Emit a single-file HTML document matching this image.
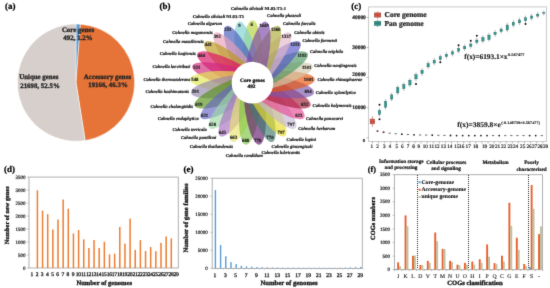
<!DOCTYPE html>
<html><head><meta charset="utf-8"><style>
html,body{margin:0;padding:0;background:#fff;width:550px;height:288px;overflow:hidden}
svg{display:block}
text{font-family:"Liberation Serif",serif;text-rendering:geometricPrecision}
#wrap{width:550px;height:288px}

</style></head><body>
<div id="wrap"><svg width="550" height="288" viewBox="0 0 550 288">
<defs><filter id="soft" x="0" y="0" width="550" height="288" filterUnits="userSpaceOnUse" color-interpolation-filters="sRGB"><feConvolveMatrix order="3" kernelMatrix="1 8 1 8 64 8 1 8 1" divisor="100" edgeMode="duplicate" preserveAlpha="true"/></filter></defs>
<g filter="url(#soft)">
<rect width="550" height="288" fill="#fff"/>
<path d="M76.00,82.60 L76.00,24.00 A58.6,58.6 0 0 1 80.41,24.17 Z" fill="#5b9bd5" stroke="#fff" stroke-width="0.5"/>
<path d="M76.00,82.60 L80.41,24.17 A58.6,58.6 0 0 1 85.17,140.48 Z" fill="#e67337" stroke="#fff" stroke-width="0.5"/>
<path d="M76.00,82.60 L85.17,140.48 A58.6,58.6 0 1 1 76.00,24.00 Z" fill="#d6cfcc" stroke="#fff" stroke-width="0.5"/>
<text x="5.00" y="9.40" font-size="9" font-weight="bold" font-style="normal" text-anchor="start" fill="#000" stroke="#000" stroke-width="0.22" >(a)</text>
<text x="78.00" y="31.80" font-size="6.9" font-weight="bold" font-style="normal" text-anchor="middle" fill="#262626" stroke="#262626" stroke-width="0.3" >Core genes</text>
<text x="78.00" y="39.60" font-size="6.9" font-weight="bold" font-style="normal" text-anchor="middle" fill="#262626" stroke="#262626" stroke-width="0.3" >492, 1.2%</text>
<text x="38.80" y="78.60" font-size="6.9" font-weight="bold" font-style="normal" text-anchor="middle" fill="#262626" stroke="#262626" stroke-width="0.3" >Unique genes</text>
<text x="40.00" y="87.70" font-size="6.9" font-weight="bold" font-style="normal" text-anchor="middle" fill="#262626" stroke="#262626" stroke-width="0.3" >21698, 52.5%</text>
<text x="107.50" y="78.50" font-size="6.9" font-weight="bold" font-style="normal" text-anchor="middle" fill="#262626" stroke="#262626" stroke-width="0.3" >Accessory genes</text>
<text x="108.00" y="86.60" font-size="6.9" font-weight="bold" font-style="normal" text-anchor="middle" fill="#262626" stroke="#262626" stroke-width="0.3" >19166, 46.3%</text>
<ellipse cx="252.50" cy="61.87" rx="10.41" ry="41.66" transform="rotate(0.00 252.50 61.87)" fill="#b6d03c" fill-opacity="0.66"/>
<ellipse cx="248.02" cy="62.36" rx="10.41" ry="41.66" transform="rotate(347.59 248.02 62.36)" fill="#7bd0d0" fill-opacity="0.66"/>
<ellipse cx="243.75" cy="63.80" rx="10.41" ry="41.66" transform="rotate(335.17 243.75 63.80)" fill="#465abb" fill-opacity="0.66"/>
<ellipse cx="239.89" cy="66.12" rx="10.41" ry="41.66" transform="rotate(322.76 239.89 66.12)" fill="#e8a0b8" fill-opacity="0.66"/>
<ellipse cx="236.62" cy="69.21" rx="10.41" ry="41.66" transform="rotate(310.34 236.62 69.21)" fill="#bb991a" fill-opacity="0.66"/>
<ellipse cx="234.10" cy="72.94" rx="10.41" ry="41.66" transform="rotate(297.93 234.10 72.94)" fill="#dc0e66" fill-opacity="0.66"/>
<ellipse cx="232.43" cy="77.13" rx="10.41" ry="41.66" transform="rotate(285.52 232.43 77.13)" fill="#d0267b" fill-opacity="0.66"/>
<ellipse cx="231.70" cy="81.57" rx="10.41" ry="41.66" transform="rotate(273.10 231.70 81.57)" fill="#e2e851" fill-opacity="0.66"/>
<ellipse cx="231.94" cy="86.07" rx="10.41" ry="41.66" transform="rotate(260.69 231.94 86.07)" fill="#9387ac" fill-opacity="0.66"/>
<ellipse cx="233.15" cy="90.41" rx="10.41" ry="41.66" transform="rotate(248.28 233.15 90.41)" fill="#57901a" fill-opacity="0.66"/>
<ellipse cx="235.26" cy="94.39" rx="10.41" ry="41.66" transform="rotate(235.86 235.26 94.39)" fill="#6666c4" fill-opacity="0.66"/>
<ellipse cx="238.18" cy="97.82" rx="10.41" ry="41.66" transform="rotate(223.45 238.18 97.82)" fill="#9ed9a6" fill-opacity="0.66"/>
<ellipse cx="241.76" cy="100.55" rx="10.41" ry="41.66" transform="rotate(211.03 241.76 100.55)" fill="#ac6fc4" fill-opacity="0.66"/>
<ellipse cx="245.85" cy="102.44" rx="10.41" ry="41.66" transform="rotate(198.62 245.85 102.44)" fill="#e8e26f" fill-opacity="0.66"/>
<ellipse cx="250.25" cy="103.41" rx="10.41" ry="41.66" transform="rotate(186.21 250.25 103.41)" fill="#7bc43f" fill-opacity="0.66"/>
<ellipse cx="254.75" cy="103.41" rx="10.41" ry="41.66" transform="rotate(173.79 254.75 103.41)" fill="#661d6f" fill-opacity="0.66"/>
<ellipse cx="259.15" cy="102.44" rx="10.41" ry="41.66" transform="rotate(161.38 259.15 102.44)" fill="#3f7b6f" fill-opacity="0.66"/>
<ellipse cx="263.24" cy="100.55" rx="10.41" ry="41.66" transform="rotate(148.97 263.24 100.55)" fill="#e8dc26" fill-opacity="0.66"/>
<ellipse cx="266.82" cy="97.82" rx="10.41" ry="41.66" transform="rotate(136.55 266.82 97.82)" fill="#c4b8d3" fill-opacity="0.66"/>
<ellipse cx="269.74" cy="94.39" rx="10.41" ry="41.66" transform="rotate(124.14 269.74 94.39)" fill="#e84b93" fill-opacity="0.66"/>
<ellipse cx="271.85" cy="90.41" rx="10.41" ry="41.66" transform="rotate(111.72 271.85 90.41)" fill="#a61d39" fill-opacity="0.66"/>
<ellipse cx="273.06" cy="86.07" rx="10.41" ry="41.66" transform="rotate(99.31 273.06 86.07)" fill="#7b57ac" fill-opacity="0.66"/>
<ellipse cx="273.30" cy="81.57" rx="10.41" ry="41.66" transform="rotate(86.90 273.30 81.57)" fill="#e8570e" fill-opacity="0.66"/>
<ellipse cx="272.57" cy="77.13" rx="10.41" ry="41.66" transform="rotate(74.48 272.57 77.13)" fill="#d0caac" fill-opacity="0.66"/>
<ellipse cx="270.90" cy="72.94" rx="10.41" ry="41.66" transform="rotate(62.07 270.90 72.94)" fill="#4e9863" fill-opacity="0.66"/>
<ellipse cx="268.38" cy="69.21" rx="10.41" ry="41.66" transform="rotate(49.66 268.38 69.21)" fill="#5857c7" fill-opacity="0.66"/>
<ellipse cx="265.11" cy="66.12" rx="10.41" ry="41.66" transform="rotate(37.24 265.11 66.12)" fill="#e2b8ca" fill-opacity="0.66"/>
<ellipse cx="261.25" cy="63.80" rx="10.41" ry="41.66" transform="rotate(24.83 261.25 63.80)" fill="#acac39" fill-opacity="0.66"/>
<ellipse cx="256.98" cy="62.36" rx="10.41" ry="41.66" transform="rotate(12.41 256.98 62.36)" fill="#7b48a9" fill-opacity="0.66"/>
<circle cx="252.5" cy="82.7" r="20.83" fill="#fff"/>
<text x="252.50" y="81.70" font-size="5.3" font-weight="bold" font-style="normal" text-anchor="middle" fill="#000" stroke="#000" stroke-width="0.22" >Core genes</text>
<text x="251.50" y="87.60" font-size="5.3" font-weight="bold" font-style="normal" text-anchor="middle" fill="#000" stroke="#000" stroke-width="0.22" >492</text>
<text x="251.76" y="25.99" font-size="4.8" font-weight="bold" font-style="normal" text-anchor="middle" fill="#222" stroke="#222" stroke-width="0.14" >6</text>
<text x="230.90" y="10.30" font-size="4.55" font-weight="bold" text-anchor="start" fill="#111" stroke="#111" stroke-width="0.16"><tspan font-style="italic">Cohnella silvisoli</tspan> NL03-T5-1</text>
<text x="264.01" y="27.35" font-size="4.8" font-weight="bold" font-style="normal" text-anchor="middle" fill="#222" stroke="#222" stroke-width="0.14" >1649</text>
<text x="267.10" y="16.90" font-size="4.55" font-weight="bold" font-style="italic" text-anchor="start" fill="#111" stroke="#111" stroke-width="0.16" >Cohnella phaseoli</text>
<text x="275.68" y="31.35" font-size="4.8" font-weight="bold" font-style="normal" text-anchor="middle" fill="#222" stroke="#222" stroke-width="0.14" >1360</text>
<text x="282.90" y="25.30" font-size="4.55" font-weight="bold" font-style="italic" text-anchor="start" fill="#111" stroke="#111" stroke-width="0.16" >Cohnella faecalis</text>
<text x="286.24" y="37.82" font-size="4.8" font-weight="bold" font-style="normal" text-anchor="middle" fill="#222" stroke="#222" stroke-width="0.14" >1337</text>
<text x="294.20" y="33.70" font-size="4.55" font-weight="bold" font-style="italic" text-anchor="start" fill="#111" stroke="#111" stroke-width="0.16" >Cohnella abietis</text>
<text x="295.18" y="46.45" font-size="4.8" font-weight="bold" font-style="normal" text-anchor="middle" fill="#222" stroke="#222" stroke-width="0.14" >1251</text>
<text x="302.50" y="41.80" font-size="4.55" font-weight="bold" font-style="italic" text-anchor="start" fill="#111" stroke="#111" stroke-width="0.16" >Cohnella formenti</text>
<text x="302.09" y="56.84" font-size="4.8" font-weight="bold" font-style="normal" text-anchor="middle" fill="#222" stroke="#222" stroke-width="0.14" >1192</text>
<text x="310.00" y="53.40" font-size="4.55" font-weight="bold" font-style="italic" text-anchor="start" fill="#111" stroke="#111" stroke-width="0.16" >Cohnella zeiphila</text>
<text x="306.65" y="68.50" font-size="4.8" font-weight="bold" font-style="normal" text-anchor="middle" fill="#222" stroke="#222" stroke-width="0.14" >1101</text>
<text x="314.30" y="67.30" font-size="4.55" font-weight="bold" font-style="italic" text-anchor="start" fill="#111" stroke="#111" stroke-width="0.16" >Cohnella nanjingensis</text>
<text x="308.65" y="80.88" font-size="4.8" font-weight="bold" font-style="normal" text-anchor="middle" fill="#222" stroke="#222" stroke-width="0.14" >1001</text>
<text x="317.40" y="80.70" font-size="4.55" font-weight="bold" font-style="italic" text-anchor="start" fill="#111" stroke="#111" stroke-width="0.16" >Cohnella rhizosphaerae</text>
<text x="307.98" y="93.41" font-size="4.8" font-weight="bold" font-style="normal" text-anchor="middle" fill="#222" stroke="#222" stroke-width="0.14" >894</text>
<text x="315.70" y="93.90" font-size="4.55" font-weight="bold" font-style="italic" text-anchor="start" fill="#111" stroke="#111" stroke-width="0.16" >Cohnella xylanilytica</text>
<text x="304.68" y="105.50" font-size="4.8" font-weight="bold" font-style="normal" text-anchor="middle" fill="#222" stroke="#222" stroke-width="0.14" >852</text>
<text x="312.60" y="106.80" font-size="4.55" font-weight="bold" font-style="italic" text-anchor="start" fill="#111" stroke="#111" stroke-width="0.16" >Cohnella kolymensis</text>
<text x="298.91" y="116.59" font-size="4.8" font-weight="bold" font-style="normal" text-anchor="middle" fill="#222" stroke="#222" stroke-width="0.14" >823</text>
<text x="306.00" y="120.20" font-size="4.55" font-weight="bold" font-style="italic" text-anchor="start" fill="#111" stroke="#111" stroke-width="0.16" >Cohnella panacarvi</text>
<text x="290.94" y="126.15" font-size="4.8" font-weight="bold" font-style="normal" text-anchor="middle" fill="#222" stroke="#222" stroke-width="0.14" >797</text>
<text x="298.20" y="129.70" font-size="4.55" font-weight="bold" font-style="italic" text-anchor="start" fill="#111" stroke="#111" stroke-width="0.16" >Cohnella herbarum</text>
<text x="281.13" y="133.74" font-size="4.8" font-weight="bold" font-style="normal" text-anchor="middle" fill="#222" stroke="#222" stroke-width="0.14" >797</text>
<text x="286.60" y="141.00" font-size="4.55" font-weight="bold" font-style="italic" text-anchor="start" fill="#111" stroke="#111" stroke-width="0.16" >Cohnella lupini</text>
<text x="269.95" y="139.01" font-size="4.8" font-weight="bold" font-style="normal" text-anchor="middle" fill="#222" stroke="#222" stroke-width="0.14" >770</text>
<text x="271.60" y="148.10" font-size="4.55" font-weight="bold" font-style="italic" text-anchor="start" fill="#111" stroke="#111" stroke-width="0.16" >Cohnella ginsengisoli</text>
<text x="257.92" y="141.71" font-size="4.8" font-weight="bold" font-style="normal" text-anchor="middle" fill="#222" stroke="#222" stroke-width="0.14" >770</text>
<text x="261.50" y="153.70" font-size="4.55" font-weight="bold" font-style="italic" text-anchor="start" fill="#111" stroke="#111" stroke-width="0.16" >Cohnella lubricantis</text>
<text x="245.60" y="141.71" font-size="4.8" font-weight="bold" font-style="normal" text-anchor="middle" fill="#222" stroke="#222" stroke-width="0.14" >688</text>
<text x="225.80" y="156.70" font-size="4.55" font-weight="bold" font-style="italic" text-anchor="start" fill="#111" stroke="#111" stroke-width="0.16" >Cohnella candidum</text>
<text x="233.57" y="139.01" font-size="4.8" font-weight="bold" font-style="normal" text-anchor="middle" fill="#222" stroke="#222" stroke-width="0.14" >663</text>
<text x="233.10" y="147.90" font-size="4.55" font-weight="bold" font-style="italic" text-anchor="end" fill="#111" stroke="#111" stroke-width="0.16" >Cohnella thailandensis</text>
<text x="222.39" y="133.74" font-size="4.8" font-weight="bold" font-style="normal" text-anchor="middle" fill="#222" stroke="#222" stroke-width="0.14" >643</text>
<text x="216.20" y="138.60" font-size="4.55" font-weight="bold" font-style="italic" text-anchor="end" fill="#111" stroke="#111" stroke-width="0.16" >Cohnella pontilimi</text>
<text x="212.58" y="126.15" font-size="4.8" font-weight="bold" font-style="normal" text-anchor="middle" fill="#222" stroke="#222" stroke-width="0.14" >628</text>
<text x="206.80" y="131.00" font-size="4.55" font-weight="bold" font-style="italic" text-anchor="end" fill="#111" stroke="#111" stroke-width="0.16" >Cohnella terricola</text>
<text x="204.61" y="116.59" font-size="4.8" font-weight="bold" font-style="normal" text-anchor="middle" fill="#222" stroke="#222" stroke-width="0.14" >621</text>
<text x="198.70" y="119.70" font-size="4.55" font-weight="bold" font-style="italic" text-anchor="end" fill="#111" stroke="#111" stroke-width="0.16" >Cohnella endophytica</text>
<text x="198.84" y="105.50" font-size="4.8" font-weight="bold" font-style="normal" text-anchor="middle" fill="#222" stroke="#222" stroke-width="0.14" >619</text>
<text x="193.00" y="107.80" font-size="4.55" font-weight="bold" font-style="italic" text-anchor="end" fill="#111" stroke="#111" stroke-width="0.16" >Cohnella cholangitidis</text>
<text x="195.54" y="93.41" font-size="4.8" font-weight="bold" font-style="normal" text-anchor="middle" fill="#222" stroke="#222" stroke-width="0.14" >591</text>
<text x="189.00" y="93.40" font-size="4.55" font-weight="bold" font-style="italic" text-anchor="end" fill="#111" stroke="#111" stroke-width="0.16" >Cohnella hashimotonis</text>
<text x="194.87" y="80.88" font-size="4.8" font-weight="bold" font-style="normal" text-anchor="middle" fill="#222" stroke="#222" stroke-width="0.14" >548</text>
<text x="190.30" y="80.70" font-size="4.55" font-weight="bold" font-style="italic" text-anchor="end" fill="#111" stroke="#111" stroke-width="0.16" >Cohnella thermotolerans</text>
<text x="196.87" y="68.50" font-size="4.8" font-weight="bold" font-style="normal" text-anchor="middle" fill="#222" stroke="#222" stroke-width="0.14" >521</text>
<text x="190.30" y="68.20" font-size="4.55" font-weight="bold" font-style="italic" text-anchor="end" fill="#111" stroke="#111" stroke-width="0.16" >Cohnella laeviribosi</text>
<text x="201.43" y="56.84" font-size="4.8" font-weight="bold" font-style="normal" text-anchor="middle" fill="#222" stroke="#222" stroke-width="0.14" >484</text>
<text x="195.90" y="54.80" font-size="4.55" font-weight="bold" font-style="italic" text-anchor="end" fill="#111" stroke="#111" stroke-width="0.16" >Cohnella luojiensis</text>
<text x="208.34" y="46.45" font-size="4.8" font-weight="bold" font-style="normal" text-anchor="middle" fill="#222" stroke="#222" stroke-width="0.14" >441</text>
<text x="203.90" y="43.30" font-size="4.55" font-weight="bold" font-style="italic" text-anchor="end" fill="#111" stroke="#111" stroke-width="0.16" >Cohnella massiliensis</text>
<text x="217.28" y="37.82" font-size="4.8" font-weight="bold" font-style="normal" text-anchor="middle" fill="#222" stroke="#222" stroke-width="0.14" >392</text>
<text x="212.90" y="33.70" font-size="4.55" font-weight="bold" font-style="italic" text-anchor="end" fill="#111" stroke="#111" stroke-width="0.16" >Cohnella mopanensis</text>
<text x="227.84" y="31.35" font-size="4.8" font-weight="bold" font-style="normal" text-anchor="middle" fill="#222" stroke="#222" stroke-width="0.14" >251</text>
<text x="222.00" y="24.50" font-size="4.55" font-weight="bold" font-style="italic" text-anchor="end" fill="#111" stroke="#111" stroke-width="0.16" >Cohnella algarum</text>
<text x="239.51" y="27.35" font-size="4.8" font-weight="bold" font-style="normal" text-anchor="middle" fill="#222" stroke="#222" stroke-width="0.14" >9</text>
<text x="244.00" y="17.50" font-size="4.55" font-weight="bold" text-anchor="end" fill="#111" stroke="#111" stroke-width="0.16"><tspan font-style="italic">Cohnella silvisoli</tspan> NL03-T5</text>
<text x="159.50" y="8.80" font-size="8.9" font-weight="bold" font-style="normal" text-anchor="start" fill="#000" stroke="#000" stroke-width="0.22" >(b)</text>
<text x="351.30" y="9.10" font-size="8.9" font-weight="bold" font-style="normal" text-anchor="start" fill="#000" stroke="#000" stroke-width="0.22" >(c)</text>
<rect x="368.6" y="6.9" width="177.80" height="134.70" fill="none" stroke="#c4c4c4" stroke-width="0.9"/>
<line x1="366.60" y1="17.50" x2="368.60" y2="17.50" stroke="#888" stroke-width="0.6" />
<text x="365.80" y="19.30" font-size="5.4" font-weight="bold" font-style="normal" text-anchor="end" fill="#222" stroke="#222" stroke-width="0.22" >40000</text>
<line x1="366.60" y1="47.55" x2="368.60" y2="47.55" stroke="#888" stroke-width="0.6" />
<text x="365.80" y="49.00" font-size="5.4" font-weight="bold" font-style="normal" text-anchor="end" fill="#222" stroke="#222" stroke-width="0.22" >30000</text>
<line x1="366.60" y1="77.60" x2="368.60" y2="77.60" stroke="#888" stroke-width="0.6" />
<text x="365.80" y="75.60" font-size="5.4" font-weight="bold" font-style="normal" text-anchor="end" fill="#222" stroke="#222" stroke-width="0.22" >20000</text>
<line x1="366.60" y1="107.65" x2="368.60" y2="107.65" stroke="#888" stroke-width="0.6" />
<text x="365.80" y="109.10" font-size="5.4" font-weight="bold" font-style="normal" text-anchor="end" fill="#222" stroke="#222" stroke-width="0.22" >10000</text>
<line x1="366.60" y1="137.70" x2="368.60" y2="137.70" stroke="#888" stroke-width="0.6" />
<text x="365.00" y="141.90" font-size="4.6" font-weight="bold" font-style="normal" text-anchor="end" fill="#333" stroke="#333" stroke-width="0.22" >0</text>
<line x1="372.40" y1="141.60" x2="372.40" y2="143.40" stroke="#888" stroke-width="0.6" />
<text x="371.70" y="148.40" font-size="5.2" font-weight="normal" font-style="normal" text-anchor="middle" fill="#222" stroke="#222" stroke-width="0.18" >1</text>
<line x1="378.48" y1="141.60" x2="378.48" y2="143.40" stroke="#888" stroke-width="0.6" />
<text x="377.60" y="148.40" font-size="5.2" font-weight="normal" font-style="normal" text-anchor="middle" fill="#222" stroke="#222" stroke-width="0.18" >2</text>
<line x1="384.57" y1="141.60" x2="384.57" y2="143.40" stroke="#888" stroke-width="0.6" />
<text x="384.20" y="148.40" font-size="5.2" font-weight="normal" font-style="normal" text-anchor="middle" fill="#222" stroke="#222" stroke-width="0.18" >3</text>
<line x1="390.65" y1="141.60" x2="390.65" y2="143.40" stroke="#888" stroke-width="0.6" />
<text x="389.90" y="148.40" font-size="5.2" font-weight="normal" font-style="normal" text-anchor="middle" fill="#222" stroke="#222" stroke-width="0.18" >4</text>
<line x1="396.74" y1="141.60" x2="396.74" y2="143.40" stroke="#888" stroke-width="0.6" />
<text x="396.80" y="148.40" font-size="5.2" font-weight="normal" font-style="normal" text-anchor="middle" fill="#222" stroke="#222" stroke-width="0.18" >5</text>
<line x1="402.82" y1="141.60" x2="402.82" y2="143.40" stroke="#888" stroke-width="0.6" />
<text x="402.40" y="148.40" font-size="5.2" font-weight="normal" font-style="normal" text-anchor="middle" fill="#222" stroke="#222" stroke-width="0.18" >6</text>
<line x1="408.91" y1="141.60" x2="408.91" y2="143.40" stroke="#888" stroke-width="0.6" />
<text x="408.00" y="148.40" font-size="5.2" font-weight="normal" font-style="normal" text-anchor="middle" fill="#222" stroke="#222" stroke-width="0.18" >7</text>
<line x1="415.00" y1="141.60" x2="415.00" y2="143.40" stroke="#888" stroke-width="0.6" />
<text x="413.60" y="148.40" font-size="5.2" font-weight="normal" font-style="normal" text-anchor="middle" fill="#222" stroke="#222" stroke-width="0.18" >8</text>
<line x1="421.08" y1="141.60" x2="421.08" y2="143.40" stroke="#888" stroke-width="0.6" />
<text x="418.90" y="148.40" font-size="5.2" font-weight="normal" font-style="normal" text-anchor="middle" fill="#222" stroke="#222" stroke-width="0.18" >9</text>
<line x1="427.16" y1="141.60" x2="427.16" y2="143.40" stroke="#888" stroke-width="0.6" />
<text x="425.30" y="148.40" font-size="5.2" font-weight="normal" font-style="normal" text-anchor="middle" fill="#222" stroke="#222" stroke-width="0.18" >10</text>
<line x1="433.25" y1="141.60" x2="433.25" y2="143.40" stroke="#888" stroke-width="0.6" />
<text x="431.60" y="148.40" font-size="5.2" font-weight="normal" font-style="normal" text-anchor="middle" fill="#222" stroke="#222" stroke-width="0.18" >11</text>
<line x1="439.33" y1="141.60" x2="439.33" y2="143.40" stroke="#888" stroke-width="0.6" />
<text x="437.00" y="148.40" font-size="5.2" font-weight="normal" font-style="normal" text-anchor="middle" fill="#222" stroke="#222" stroke-width="0.18" >12</text>
<line x1="445.42" y1="141.60" x2="445.42" y2="143.40" stroke="#888" stroke-width="0.6" />
<text x="443.40" y="148.40" font-size="5.2" font-weight="normal" font-style="normal" text-anchor="middle" fill="#222" stroke="#222" stroke-width="0.18" >13</text>
<line x1="451.50" y1="141.60" x2="451.50" y2="143.40" stroke="#888" stroke-width="0.6" />
<text x="449.80" y="148.40" font-size="5.2" font-weight="normal" font-style="normal" text-anchor="middle" fill="#222" stroke="#222" stroke-width="0.18" >14</text>
<line x1="457.59" y1="141.60" x2="457.59" y2="143.40" stroke="#888" stroke-width="0.6" />
<text x="456.90" y="148.40" font-size="5.2" font-weight="normal" font-style="normal" text-anchor="middle" fill="#222" stroke="#222" stroke-width="0.18" >15</text>
<line x1="463.67" y1="141.60" x2="463.67" y2="143.40" stroke="#888" stroke-width="0.6" />
<text x="461.80" y="148.40" font-size="5.2" font-weight="normal" font-style="normal" text-anchor="middle" fill="#222" stroke="#222" stroke-width="0.18" >16</text>
<line x1="469.76" y1="141.60" x2="469.76" y2="143.40" stroke="#888" stroke-width="0.6" />
<text x="468.20" y="148.40" font-size="5.2" font-weight="normal" font-style="normal" text-anchor="middle" fill="#222" stroke="#222" stroke-width="0.18" >17</text>
<line x1="475.84" y1="141.60" x2="475.84" y2="143.40" stroke="#888" stroke-width="0.6" />
<text x="475.50" y="148.40" font-size="5.2" font-weight="normal" font-style="normal" text-anchor="middle" fill="#222" stroke="#222" stroke-width="0.18" >18</text>
<line x1="481.93" y1="141.60" x2="481.93" y2="143.40" stroke="#888" stroke-width="0.6" />
<text x="484.50" y="148.40" font-size="5.2" font-weight="normal" font-style="normal" text-anchor="middle" fill="#222" stroke="#222" stroke-width="0.18" >19</text>
<line x1="488.01" y1="141.60" x2="488.01" y2="143.40" stroke="#888" stroke-width="0.6" />
<text x="491.80" y="148.40" font-size="5.2" font-weight="normal" font-style="normal" text-anchor="middle" fill="#222" stroke="#222" stroke-width="0.18" >20</text>
<line x1="494.10" y1="141.60" x2="494.10" y2="143.40" stroke="#888" stroke-width="0.6" />
<text x="497.60" y="148.40" font-size="5.2" font-weight="normal" font-style="normal" text-anchor="middle" fill="#222" stroke="#222" stroke-width="0.18" >21</text>
<line x1="500.18" y1="141.60" x2="500.18" y2="143.40" stroke="#888" stroke-width="0.6" />
<text x="503.60" y="148.40" font-size="5.2" font-weight="normal" font-style="normal" text-anchor="middle" fill="#222" stroke="#222" stroke-width="0.18" >22</text>
<line x1="506.27" y1="141.60" x2="506.27" y2="143.40" stroke="#888" stroke-width="0.6" />
<text x="510.00" y="148.40" font-size="5.2" font-weight="normal" font-style="normal" text-anchor="middle" fill="#222" stroke="#222" stroke-width="0.18" >23</text>
<line x1="512.36" y1="141.60" x2="512.36" y2="143.40" stroke="#888" stroke-width="0.6" />
<text x="515.50" y="148.40" font-size="5.2" font-weight="normal" font-style="normal" text-anchor="middle" fill="#222" stroke="#222" stroke-width="0.18" >24</text>
<line x1="518.44" y1="141.60" x2="518.44" y2="143.40" stroke="#888" stroke-width="0.6" />
<text x="522.70" y="148.40" font-size="5.2" font-weight="normal" font-style="normal" text-anchor="middle" fill="#222" stroke="#222" stroke-width="0.18" >25</text>
<line x1="524.52" y1="141.60" x2="524.52" y2="143.40" stroke="#888" stroke-width="0.6" />
<text x="529.00" y="148.40" font-size="5.2" font-weight="normal" font-style="normal" text-anchor="middle" fill="#222" stroke="#222" stroke-width="0.18" >26</text>
<line x1="530.61" y1="141.60" x2="530.61" y2="143.40" stroke="#888" stroke-width="0.6" />
<text x="534.50" y="148.40" font-size="5.2" font-weight="normal" font-style="normal" text-anchor="middle" fill="#222" stroke="#222" stroke-width="0.18" >27</text>
<line x1="536.69" y1="141.60" x2="536.69" y2="143.40" stroke="#888" stroke-width="0.6" />
<text x="540.00" y="148.40" font-size="5.2" font-weight="normal" font-style="normal" text-anchor="middle" fill="#222" stroke="#222" stroke-width="0.18" >28</text>
<line x1="542.78" y1="141.60" x2="542.78" y2="143.40" stroke="#888" stroke-width="0.6" />
<text x="545.50" y="148.40" font-size="5.2" font-weight="normal" font-style="normal" text-anchor="middle" fill="#222" stroke="#222" stroke-width="0.18" >29</text>
<line x1="377.60" y1="11.40" x2="377.60" y2="18.60" stroke="#a04038" stroke-width="0.5" />
<line x1="377.60" y1="19.80" x2="377.60" y2="27.00" stroke="#22524d" stroke-width="0.5" />
<rect x="374.40" y="12.90" width="6.40" height="4.20" fill="#dc5548" stroke="#8a3a30" stroke-width="0.45"/>
<rect x="374.40" y="21.30" width="6.40" height="4.10" fill="#33968c" stroke="#1f5f58" stroke-width="0.45"/>
<line x1="374.40" y1="15.00" x2="380.80" y2="15.00" stroke="#8a3a30" stroke-width="0.45" />
<line x1="374.40" y1="23.35" x2="380.80" y2="23.35" stroke="#1f5f58" stroke-width="0.45" />
<text x="384.50" y="17.20" font-size="7.5" font-weight="bold" font-style="normal" text-anchor="start" fill="#1a1a1a" stroke="#1a1a1a" stroke-width="0.22" >Core genome</text>
<text x="384.50" y="25.50" font-size="7.5" font-weight="bold" font-style="normal" text-anchor="start" fill="#1a1a1a" stroke="#1a1a1a" stroke-width="0.22" >Pan genome</text>
<line x1="379.48" y1="108.10" x2="379.48" y2="116.70" stroke="#555" stroke-width="0.4" />
<rect x="378.28" y="110.30" width="2.40" height="4.20" fill="#2c9a90" stroke="#22524d" stroke-width="0.3"/>
<line x1="385.57" y1="99.10" x2="385.57" y2="109.50" stroke="#555" stroke-width="0.4" />
<rect x="384.37" y="101.30" width="2.40" height="6.00" fill="#2c9a90" stroke="#22524d" stroke-width="0.3"/>
<line x1="391.65" y1="92.70" x2="391.65" y2="101.30" stroke="#555" stroke-width="0.4" />
<rect x="390.45" y="94.90" width="2.40" height="4.20" fill="#2c9a90" stroke="#22524d" stroke-width="0.3"/>
<line x1="397.74" y1="85.25" x2="397.74" y2="95.15" stroke="#555" stroke-width="0.4" />
<rect x="396.54" y="87.45" width="2.40" height="5.50" fill="#2c9a90" stroke="#22524d" stroke-width="0.3"/>
<line x1="403.82" y1="82.30" x2="403.82" y2="90.90" stroke="#555" stroke-width="0.4" />
<rect x="402.62" y="84.50" width="2.40" height="4.20" fill="#2c9a90" stroke="#22524d" stroke-width="0.3"/>
<line x1="409.91" y1="78.00" x2="409.91" y2="87.20" stroke="#555" stroke-width="0.4" />
<rect x="408.71" y="80.20" width="2.40" height="4.80" fill="#2c9a90" stroke="#22524d" stroke-width="0.3"/>
<line x1="416.00" y1="72.45" x2="416.00" y2="81.15" stroke="#555" stroke-width="0.4" />
<rect x="414.80" y="74.65" width="2.40" height="4.30" fill="#2c9a90" stroke="#22524d" stroke-width="0.3"/>
<line x1="422.08" y1="67.95" x2="422.08" y2="75.85" stroke="#555" stroke-width="0.4" />
<rect x="420.88" y="70.15" width="2.40" height="3.50" fill="#2c9a90" stroke="#22524d" stroke-width="0.3"/>
<line x1="428.16" y1="61.25" x2="428.16" y2="69.15" stroke="#555" stroke-width="0.4" />
<rect x="426.96" y="63.45" width="2.40" height="3.50" fill="#2c9a90" stroke="#22524d" stroke-width="0.3"/>
<line x1="434.25" y1="57.90" x2="434.25" y2="65.30" stroke="#555" stroke-width="0.4" />
<rect x="433.05" y="60.10" width="2.40" height="3.00" fill="#2c9a90" stroke="#22524d" stroke-width="0.3"/>
<line x1="440.33" y1="54.40" x2="440.33" y2="61.80" stroke="#555" stroke-width="0.4" />
<rect x="439.13" y="56.60" width="2.40" height="3.00" fill="#2c9a90" stroke="#22524d" stroke-width="0.3"/>
<line x1="446.42" y1="52.05" x2="446.42" y2="58.95" stroke="#555" stroke-width="0.4" />
<rect x="445.22" y="54.25" width="2.40" height="2.50" fill="#2c9a90" stroke="#22524d" stroke-width="0.3"/>
<line x1="452.50" y1="49.55" x2="452.50" y2="56.45" stroke="#555" stroke-width="0.4" />
<rect x="451.31" y="51.75" width="2.40" height="2.50" fill="#2c9a90" stroke="#22524d" stroke-width="0.3"/>
<line x1="458.59" y1="46.10" x2="458.59" y2="53.50" stroke="#555" stroke-width="0.4" />
<rect x="457.39" y="48.30" width="2.40" height="3.00" fill="#2c9a90" stroke="#22524d" stroke-width="0.3"/>
<line x1="464.67" y1="44.15" x2="464.67" y2="51.05" stroke="#555" stroke-width="0.4" />
<rect x="463.47" y="46.35" width="2.40" height="2.50" fill="#2c9a90" stroke="#22524d" stroke-width="0.3"/>
<line x1="470.76" y1="41.75" x2="470.76" y2="48.65" stroke="#555" stroke-width="0.4" />
<rect x="469.56" y="43.95" width="2.40" height="2.50" fill="#2c9a90" stroke="#22524d" stroke-width="0.3"/>
<line x1="476.84" y1="37.80" x2="476.84" y2="44.70" stroke="#555" stroke-width="0.4" />
<rect x="475.64" y="40.00" width="2.40" height="2.50" fill="#2c9a90" stroke="#22524d" stroke-width="0.3"/>
<line x1="482.93" y1="35.35" x2="482.93" y2="43.25" stroke="#555" stroke-width="0.4" />
<rect x="481.73" y="37.55" width="2.40" height="3.50" fill="#2c9a90" stroke="#22524d" stroke-width="0.3"/>
<line x1="489.01" y1="32.85" x2="489.01" y2="41.75" stroke="#555" stroke-width="0.4" />
<rect x="487.81" y="35.05" width="2.40" height="4.50" fill="#2c9a90" stroke="#22524d" stroke-width="0.3"/>
<line x1="495.10" y1="29.95" x2="495.10" y2="36.85" stroke="#555" stroke-width="0.4" />
<rect x="493.90" y="32.15" width="2.40" height="2.50" fill="#2c9a90" stroke="#22524d" stroke-width="0.3"/>
<line x1="501.18" y1="26.85" x2="501.18" y2="33.75" stroke="#555" stroke-width="0.4" />
<rect x="499.98" y="29.05" width="2.40" height="2.50" fill="#2c9a90" stroke="#22524d" stroke-width="0.3"/>
<line x1="507.27" y1="22.80" x2="507.27" y2="32.20" stroke="#555" stroke-width="0.4" />
<rect x="506.07" y="25.00" width="2.40" height="5.00" fill="#2c9a90" stroke="#22524d" stroke-width="0.3"/>
<line x1="513.36" y1="20.05" x2="513.36" y2="27.45" stroke="#555" stroke-width="0.4" />
<rect x="512.15" y="22.25" width="2.40" height="3.00" fill="#2c9a90" stroke="#22524d" stroke-width="0.3"/>
<line x1="519.44" y1="17.70" x2="519.44" y2="25.10" stroke="#555" stroke-width="0.4" />
<rect x="518.24" y="19.90" width="2.40" height="3.00" fill="#2c9a90" stroke="#22524d" stroke-width="0.3"/>
<line x1="525.52" y1="15.60" x2="525.52" y2="23.00" stroke="#555" stroke-width="0.4" />
<rect x="524.32" y="17.80" width="2.40" height="3.00" fill="#2c9a90" stroke="#22524d" stroke-width="0.3"/>
<line x1="531.61" y1="13.75" x2="531.61" y2="20.65" stroke="#555" stroke-width="0.4" />
<rect x="530.41" y="15.95" width="2.40" height="2.50" fill="#2c9a90" stroke="#22524d" stroke-width="0.3"/>
<line x1="537.69" y1="11.90" x2="537.69" y2="18.30" stroke="#555" stroke-width="0.4" />
<rect x="536.49" y="14.10" width="2.40" height="2.00" fill="#2c9a90" stroke="#22524d" stroke-width="0.3"/>
<line x1="543.78" y1="10.40" x2="543.78" y2="15.60" stroke="#555" stroke-width="0.4" />
<rect x="542.58" y="12.60" width="2.40" height="0.80" fill="#2c9a90" stroke="#22524d" stroke-width="0.3"/>
<circle cx="379.48" cy="104.7" r="1.0" fill="#111"/>
<circle cx="379.48" cy="119.3" r="1.0" fill="#111"/>
<circle cx="416.00" cy="83.9" r="1.0" fill="#111"/>
<circle cx="440.33" cy="62.3" r="1.0" fill="#111"/>
<circle cx="458.59" cy="45.2" r="1.0" fill="#111"/>
<circle cx="470.76" cy="40.8" r="1.0" fill="#111"/>
<circle cx="476.84" cy="35.8" r="1.0" fill="#111"/>
<circle cx="525.52" cy="24.0" r="1.0" fill="#111"/>
<line x1="372.40" y1="116.00" x2="372.40" y2="127.00" stroke="#a04038" stroke-width="0.5" />
<rect x="370.10" y="119.00" width="4.60" height="4.90" fill="#e0554a" stroke="#8a3a30" stroke-width="0.4"/>
<line x1="370.10" y1="121.50" x2="374.70" y2="121.50" stroke="#8a3a30" stroke-width="0.5" />
<ellipse cx="377.48" cy="131.1" rx="1.1" ry="0.9" fill="#6a2a28"/>
<ellipse cx="383.57" cy="132.2" rx="1.1" ry="0.9" fill="#6a2a28"/>
<line x1="388.55" y1="133.20" x2="390.75" y2="133.20" stroke="#555" stroke-width="0.9" />
<line x1="394.64" y1="133.75" x2="396.84" y2="133.75" stroke="#555" stroke-width="0.9" />
<circle cx="401.82" cy="134.2" r="0.9" fill="#1a1a1a"/>
<line x1="406.81" y1="134.50" x2="409.01" y2="134.50" stroke="#555" stroke-width="0.9" />
<circle cx="414.00" cy="134.8" r="0.9" fill="#1a1a1a"/>
<line x1="418.98" y1="135.00" x2="421.18" y2="135.00" stroke="#555" stroke-width="0.9" />
<line x1="425.06" y1="135.10" x2="427.26" y2="135.10" stroke="#555" stroke-width="0.9" />
<circle cx="432.25" cy="135.2" r="0.9" fill="#1a1a1a"/>
<line x1="437.23" y1="135.30" x2="439.44" y2="135.30" stroke="#555" stroke-width="0.9" />
<line x1="443.32" y1="135.40" x2="445.52" y2="135.40" stroke="#555" stroke-width="0.9" />
<circle cx="450.50" cy="135.5" r="0.9" fill="#1a1a1a"/>
<circle cx="456.59" cy="135.6" r="0.9" fill="#1a1a1a"/>
<circle cx="462.67" cy="135.6" r="0.9" fill="#1a1a1a"/>
<circle cx="468.76" cy="135.6" r="0.9" fill="#1a1a1a"/>
<circle cx="474.84" cy="135.6" r="0.9" fill="#1a1a1a"/>
<circle cx="480.93" cy="135.6" r="0.9" fill="#1a1a1a"/>
<circle cx="487.01" cy="135.6" r="0.9" fill="#1a1a1a"/>
<line x1="492.00" y1="135.60" x2="494.20" y2="135.60" stroke="#555" stroke-width="0.9" />
<circle cx="499.18" cy="135.6" r="0.9" fill="#1a1a1a"/>
<line x1="504.17" y1="135.60" x2="506.37" y2="135.60" stroke="#555" stroke-width="0.9" />
<line x1="510.25" y1="135.60" x2="512.46" y2="135.60" stroke="#555" stroke-width="0.9" />
<line x1="516.34" y1="135.60" x2="518.54" y2="135.60" stroke="#555" stroke-width="0.9" />
<line x1="522.42" y1="135.60" x2="524.62" y2="135.60" stroke="#555" stroke-width="0.9" />
<circle cx="529.61" cy="135.6" r="0.9" fill="#1a1a1a"/>
<circle cx="535.69" cy="135.6" r="0.9" fill="#1a1a1a"/>
<line x1="540.68" y1="135.60" x2="542.88" y2="135.60" stroke="#555" stroke-width="0.9" />
<text x="464.30" y="59.30" font-size="7.3" font-weight="bold" font-style="normal" text-anchor="start" fill="#1a1a1a" stroke="#1a1a1a" stroke-width="0.15" textLength="43.2" lengthAdjust="spacingAndGlyphs">f(x)=6193.1×x</text>
<text x="508.00" y="56.30" font-size="4.0" font-weight="bold" font-style="normal" text-anchor="start" fill="#1a1a1a" stroke="#1a1a1a" stroke-width="0.1" textLength="16.5" lengthAdjust="spacingAndGlyphs">0.567477</text>
<text x="457.30" y="126.80" font-size="7.3" font-weight="bold" font-style="normal" text-anchor="start" fill="#1a1a1a" stroke="#1a1a1a" stroke-width="0.15" textLength="43.6" lengthAdjust="spacingAndGlyphs">f(x)=3859.8×e</text>
<text x="501.20" y="124.00" font-size="3.9" font-weight="bold" font-style="normal" text-anchor="start" fill="#1a1a1a" stroke="#1a1a1a" stroke-width="0.1" textLength="38.8" lengthAdjust="spacingAndGlyphs">(-0.148739×0.567477)</text>
<text x="4.00" y="172.20" font-size="9" font-weight="bold" font-style="normal" text-anchor="start" fill="#000" stroke="#000" stroke-width="0.22" >(d)</text>
<rect x="29.0" y="177.1" width="149.30" height="90.90" fill="none" stroke="#a8a8a8" stroke-width="0.9"/>
<line x1="27.20" y1="268.00" x2="29.00" y2="268.00" stroke="#888" stroke-width="0.5" />
<text x="25.50" y="269.60" font-size="5.0" font-weight="normal" font-style="normal" text-anchor="end" fill="#222" stroke="#222" stroke-width="0.2" >0</text>
<line x1="27.20" y1="255.01" x2="29.00" y2="255.01" stroke="#888" stroke-width="0.5" />
<text x="25.50" y="256.61" font-size="5.0" font-weight="normal" font-style="normal" text-anchor="end" fill="#222" stroke="#222" stroke-width="0.2" >500</text>
<line x1="27.20" y1="242.03" x2="29.00" y2="242.03" stroke="#888" stroke-width="0.5" />
<text x="25.50" y="243.63" font-size="5.0" font-weight="normal" font-style="normal" text-anchor="end" fill="#222" stroke="#222" stroke-width="0.2" >1000</text>
<line x1="27.20" y1="229.04" x2="29.00" y2="229.04" stroke="#888" stroke-width="0.5" />
<text x="25.50" y="230.64" font-size="5.0" font-weight="normal" font-style="normal" text-anchor="end" fill="#222" stroke="#222" stroke-width="0.2" >1500</text>
<line x1="27.20" y1="216.06" x2="29.00" y2="216.06" stroke="#888" stroke-width="0.5" />
<text x="25.50" y="217.66" font-size="5.0" font-weight="normal" font-style="normal" text-anchor="end" fill="#222" stroke="#222" stroke-width="0.2" >2000</text>
<line x1="27.20" y1="203.07" x2="29.00" y2="203.07" stroke="#888" stroke-width="0.5" />
<text x="25.50" y="204.67" font-size="5.0" font-weight="normal" font-style="normal" text-anchor="end" fill="#222" stroke="#222" stroke-width="0.2" >2500</text>
<line x1="27.20" y1="190.09" x2="29.00" y2="190.09" stroke="#888" stroke-width="0.5" />
<text x="25.50" y="191.69" font-size="5.0" font-weight="normal" font-style="normal" text-anchor="end" fill="#222" stroke="#222" stroke-width="0.2" >3000</text>
<line x1="27.20" y1="177.10" x2="29.00" y2="177.10" stroke="#888" stroke-width="0.5" />
<text x="25.50" y="178.70" font-size="5.0" font-weight="normal" font-style="normal" text-anchor="end" fill="#222" stroke="#222" stroke-width="0.2" >3500</text>
<rect x="36.65" y="190.27" width="1.50" height="77.73" fill="#ed7d31" />
<rect x="41.80" y="210.66" width="1.50" height="57.34" fill="#ed7d31" />
<rect x="46.95" y="214.16" width="1.50" height="53.84" fill="#ed7d31" />
<rect x="52.10" y="229.51" width="1.50" height="38.49" fill="#ed7d31" />
<rect x="57.25" y="219.56" width="1.50" height="48.44" fill="#ed7d31" />
<rect x="62.40" y="199.51" width="1.50" height="68.49" fill="#ed7d31" />
<rect x="67.55" y="208.66" width="1.50" height="59.34" fill="#ed7d31" />
<rect x="72.70" y="233.46" width="1.50" height="34.54" fill="#ed7d31" />
<rect x="77.85" y="230.03" width="1.50" height="37.97" fill="#ed7d31" />
<rect x="83.00" y="239.38" width="1.50" height="28.62" fill="#ed7d31" />
<rect x="88.15" y="248.03" width="1.50" height="19.97" fill="#ed7d31" />
<rect x="93.30" y="240.08" width="1.50" height="27.92" fill="#ed7d31" />
<rect x="98.45" y="248.03" width="1.50" height="19.97" fill="#ed7d31" />
<rect x="103.60" y="241.79" width="1.50" height="26.21" fill="#ed7d31" />
<rect x="108.75" y="254.34" width="1.50" height="13.66" fill="#ed7d31" />
<rect x="113.90" y="253.69" width="1.50" height="14.31" fill="#ed7d31" />
<rect x="119.05" y="226.94" width="1.50" height="41.06" fill="#ed7d31" />
<rect x="124.20" y="243.61" width="1.50" height="24.39" fill="#ed7d31" />
<rect x="129.35" y="218.55" width="1.50" height="49.45" fill="#ed7d31" />
<rect x="134.50" y="249.95" width="1.50" height="18.05" fill="#ed7d31" />
<rect x="139.65" y="240.08" width="1.50" height="27.92" fill="#ed7d31" />
<rect x="144.80" y="250.94" width="1.50" height="17.06" fill="#ed7d31" />
<rect x="149.95" y="247.02" width="1.50" height="20.98" fill="#ed7d31" />
<rect x="155.10" y="251.20" width="1.50" height="16.80" fill="#ed7d31" />
<rect x="160.25" y="242.83" width="1.50" height="25.17" fill="#ed7d31" />
<rect x="165.40" y="236.42" width="1.50" height="31.58" fill="#ed7d31" />
<rect x="170.55" y="238.39" width="1.50" height="29.61" fill="#ed7d31" />
<text x="31.90" y="275.90" font-size="5.5" font-weight="normal" font-style="normal" text-anchor="middle" fill="#222" stroke="#222" stroke-width="0.3" >1</text>
<text x="37.05" y="275.90" font-size="5.5" font-weight="normal" font-style="normal" text-anchor="middle" fill="#222" stroke="#222" stroke-width="0.3" >2</text>
<text x="42.20" y="275.90" font-size="5.5" font-weight="normal" font-style="normal" text-anchor="middle" fill="#222" stroke="#222" stroke-width="0.3" >3</text>
<text x="47.35" y="275.90" font-size="5.5" font-weight="normal" font-style="normal" text-anchor="middle" fill="#222" stroke="#222" stroke-width="0.3" >4</text>
<text x="52.50" y="275.90" font-size="5.5" font-weight="normal" font-style="normal" text-anchor="middle" fill="#222" stroke="#222" stroke-width="0.3" >5</text>
<text x="57.65" y="275.90" font-size="5.5" font-weight="normal" font-style="normal" text-anchor="middle" fill="#222" stroke="#222" stroke-width="0.3" >6</text>
<text x="62.80" y="275.90" font-size="5.5" font-weight="normal" font-style="normal" text-anchor="middle" fill="#222" stroke="#222" stroke-width="0.3" >7</text>
<text x="67.95" y="275.90" font-size="5.5" font-weight="normal" font-style="normal" text-anchor="middle" fill="#222" stroke="#222" stroke-width="0.3" >8</text>
<text x="73.10" y="275.90" font-size="5.5" font-weight="normal" font-style="normal" text-anchor="middle" fill="#222" stroke="#222" stroke-width="0.3" >9</text>
<text x="78.25" y="275.90" font-size="5.5" font-weight="normal" font-style="normal" text-anchor="middle" fill="#222" stroke="#222" stroke-width="0.3" letter-spacing="-0.25">10</text>
<text x="83.40" y="275.90" font-size="5.5" font-weight="normal" font-style="normal" text-anchor="middle" fill="#222" stroke="#222" stroke-width="0.3" letter-spacing="-0.25">11</text>
<text x="88.55" y="275.90" font-size="5.5" font-weight="normal" font-style="normal" text-anchor="middle" fill="#222" stroke="#222" stroke-width="0.3" letter-spacing="-0.25">12</text>
<text x="93.70" y="275.90" font-size="5.5" font-weight="normal" font-style="normal" text-anchor="middle" fill="#222" stroke="#222" stroke-width="0.3" letter-spacing="-0.25">13</text>
<text x="98.85" y="275.90" font-size="5.5" font-weight="normal" font-style="normal" text-anchor="middle" fill="#222" stroke="#222" stroke-width="0.3" letter-spacing="-0.25">14</text>
<text x="104.00" y="275.90" font-size="5.5" font-weight="normal" font-style="normal" text-anchor="middle" fill="#222" stroke="#222" stroke-width="0.3" letter-spacing="-0.25">15</text>
<text x="109.15" y="275.90" font-size="5.5" font-weight="normal" font-style="normal" text-anchor="middle" fill="#222" stroke="#222" stroke-width="0.3" letter-spacing="-0.25">16</text>
<text x="114.30" y="275.90" font-size="5.5" font-weight="normal" font-style="normal" text-anchor="middle" fill="#222" stroke="#222" stroke-width="0.3" letter-spacing="-0.25">17</text>
<text x="119.45" y="275.90" font-size="5.5" font-weight="normal" font-style="normal" text-anchor="middle" fill="#222" stroke="#222" stroke-width="0.3" letter-spacing="-0.25">18</text>
<text x="124.60" y="275.90" font-size="5.5" font-weight="normal" font-style="normal" text-anchor="middle" fill="#222" stroke="#222" stroke-width="0.3" letter-spacing="-0.25">19</text>
<text x="129.75" y="275.90" font-size="5.5" font-weight="normal" font-style="normal" text-anchor="middle" fill="#222" stroke="#222" stroke-width="0.3" letter-spacing="-0.25">20</text>
<text x="134.90" y="275.90" font-size="5.5" font-weight="normal" font-style="normal" text-anchor="middle" fill="#222" stroke="#222" stroke-width="0.3" letter-spacing="-0.25">21</text>
<text x="140.05" y="275.90" font-size="5.5" font-weight="normal" font-style="normal" text-anchor="middle" fill="#222" stroke="#222" stroke-width="0.3" letter-spacing="-0.25">22</text>
<text x="145.20" y="275.90" font-size="5.5" font-weight="normal" font-style="normal" text-anchor="middle" fill="#222" stroke="#222" stroke-width="0.3" letter-spacing="-0.25">23</text>
<text x="150.35" y="275.90" font-size="5.5" font-weight="normal" font-style="normal" text-anchor="middle" fill="#222" stroke="#222" stroke-width="0.3" letter-spacing="-0.25">24</text>
<text x="155.50" y="275.90" font-size="5.5" font-weight="normal" font-style="normal" text-anchor="middle" fill="#222" stroke="#222" stroke-width="0.3" letter-spacing="-0.25">25</text>
<text x="160.65" y="275.90" font-size="5.5" font-weight="normal" font-style="normal" text-anchor="middle" fill="#222" stroke="#222" stroke-width="0.3" letter-spacing="-0.25">26</text>
<text x="165.80" y="275.90" font-size="5.5" font-weight="normal" font-style="normal" text-anchor="middle" fill="#222" stroke="#222" stroke-width="0.3" letter-spacing="-0.25">27</text>
<text x="170.95" y="275.90" font-size="5.5" font-weight="normal" font-style="normal" text-anchor="middle" fill="#222" stroke="#222" stroke-width="0.3" letter-spacing="-0.25">28</text>
<text x="176.10" y="275.90" font-size="5.5" font-weight="normal" font-style="normal" text-anchor="middle" fill="#222" stroke="#222" stroke-width="0.3" letter-spacing="-0.25">29</text>
<text x="104.20" y="284.80" font-size="6.5" font-weight="bold" font-style="normal" text-anchor="middle" fill="#111" stroke="#111" stroke-width="0.3" >Number of genomes</text>
<text x="0.00" y="0.00" font-size="6.3" font-weight="bold" font-style="normal" text-anchor="middle" fill="#111" stroke="#111" stroke-width="0.3" transform="translate(9.0,215.3) rotate(-90)">Number of new genes</text>
<text x="183.50" y="172.30" font-size="9" font-weight="bold" font-style="normal" text-anchor="start" fill="#000" stroke="#000" stroke-width="0.22" >(e)</text>
<rect x="212.2" y="178.2" width="150.10" height="90.20" fill="none" stroke="#a8a8a8" stroke-width="0.9"/>
<line x1="210.40" y1="268.30" x2="212.20" y2="268.30" stroke="#888" stroke-width="0.5" />
<text x="207.80" y="269.90" font-size="5.0" font-weight="normal" font-style="normal" text-anchor="end" fill="#222" stroke="#222" stroke-width="0.2" >0</text>
<line x1="210.40" y1="250.28" x2="212.20" y2="250.28" stroke="#888" stroke-width="0.5" />
<text x="207.80" y="251.88" font-size="5.0" font-weight="normal" font-style="normal" text-anchor="end" fill="#222" stroke="#222" stroke-width="0.2" >5000</text>
<line x1="210.40" y1="232.26" x2="212.20" y2="232.26" stroke="#888" stroke-width="0.5" />
<text x="207.80" y="233.86" font-size="5.0" font-weight="normal" font-style="normal" text-anchor="end" fill="#222" stroke="#222" stroke-width="0.2" >10000</text>
<line x1="210.40" y1="214.24" x2="212.20" y2="214.24" stroke="#888" stroke-width="0.5" />
<text x="207.80" y="215.84" font-size="5.0" font-weight="normal" font-style="normal" text-anchor="end" fill="#222" stroke="#222" stroke-width="0.2" >15000</text>
<line x1="210.40" y1="196.22" x2="212.20" y2="196.22" stroke="#888" stroke-width="0.5" />
<text x="207.80" y="197.82" font-size="5.0" font-weight="normal" font-style="normal" text-anchor="end" fill="#222" stroke="#222" stroke-width="0.2" >20000</text>
<line x1="210.40" y1="178.20" x2="212.20" y2="178.20" stroke="#888" stroke-width="0.5" />
<text x="207.80" y="179.80" font-size="5.0" font-weight="normal" font-style="normal" text-anchor="end" fill="#222" stroke="#222" stroke-width="0.2" >25000</text>
<rect x="214.70" y="190.10" width="1.40" height="78.20" fill="#5b9bd5" />
<line x1="218.00" y1="268.30" x2="218.00" y2="269.60" stroke="#888" stroke-width="0.4" />
<rect x="219.89" y="244.97" width="1.40" height="23.33" fill="#5b9bd5" />
<line x1="223.19" y1="268.30" x2="223.19" y2="269.60" stroke="#888" stroke-width="0.4" />
<rect x="225.08" y="256.19" width="1.40" height="12.11" fill="#5b9bd5" />
<line x1="228.38" y1="268.30" x2="228.38" y2="269.60" stroke="#888" stroke-width="0.4" />
<rect x="230.27" y="262.09" width="1.40" height="6.21" fill="#5b9bd5" />
<line x1="233.57" y1="268.30" x2="233.57" y2="269.60" stroke="#888" stroke-width="0.4" />
<rect x="235.46" y="264.09" width="1.40" height="4.21" fill="#5b9bd5" />
<line x1="238.76" y1="268.30" x2="238.76" y2="269.60" stroke="#888" stroke-width="0.4" />
<rect x="240.65" y="265.80" width="1.40" height="2.50" fill="#5b9bd5" />
<line x1="243.95" y1="268.30" x2="243.95" y2="269.60" stroke="#888" stroke-width="0.4" />
<rect x="245.84" y="266.43" width="1.40" height="1.87" fill="#5b9bd5" />
<line x1="249.14" y1="268.30" x2="249.14" y2="269.60" stroke="#888" stroke-width="0.4" />
<rect x="251.03" y="266.79" width="1.40" height="1.51" fill="#5b9bd5" />
<line x1="254.33" y1="268.30" x2="254.33" y2="269.60" stroke="#888" stroke-width="0.4" />
<rect x="256.22" y="267.11" width="1.40" height="1.19" fill="#5b9bd5" />
<line x1="259.52" y1="268.30" x2="259.52" y2="269.60" stroke="#888" stroke-width="0.4" />
<rect x="261.41" y="267.29" width="1.40" height="1.01" fill="#5b9bd5" />
<line x1="264.71" y1="268.30" x2="264.71" y2="269.60" stroke="#888" stroke-width="0.4" />
<rect x="266.60" y="267.36" width="1.40" height="0.94" fill="#5b9bd5" />
<line x1="269.90" y1="268.30" x2="269.90" y2="269.60" stroke="#888" stroke-width="0.4" />
<rect x="271.79" y="267.47" width="1.40" height="0.83" fill="#5b9bd5" />
<line x1="275.09" y1="268.30" x2="275.09" y2="269.60" stroke="#888" stroke-width="0.4" />
<rect x="276.98" y="267.58" width="1.40" height="0.72" fill="#5b9bd5" />
<line x1="280.28" y1="268.30" x2="280.28" y2="269.60" stroke="#888" stroke-width="0.4" />
<rect x="282.17" y="267.62" width="1.40" height="0.68" fill="#5b9bd5" />
<line x1="285.47" y1="268.30" x2="285.47" y2="269.60" stroke="#888" stroke-width="0.4" />
<rect x="287.36" y="267.65" width="1.40" height="0.65" fill="#5b9bd5" />
<line x1="290.66" y1="268.30" x2="290.66" y2="269.60" stroke="#888" stroke-width="0.4" />
<rect x="292.55" y="267.69" width="1.40" height="0.61" fill="#5b9bd5" />
<line x1="295.85" y1="268.30" x2="295.85" y2="269.60" stroke="#888" stroke-width="0.4" />
<rect x="297.74" y="267.72" width="1.40" height="0.58" fill="#5b9bd5" />
<line x1="301.04" y1="268.30" x2="301.04" y2="269.60" stroke="#888" stroke-width="0.4" />
<rect x="302.93" y="267.72" width="1.40" height="0.58" fill="#5b9bd5" />
<line x1="306.23" y1="268.30" x2="306.23" y2="269.60" stroke="#888" stroke-width="0.4" />
<rect x="308.12" y="267.76" width="1.40" height="0.54" fill="#5b9bd5" />
<line x1="311.42" y1="268.30" x2="311.42" y2="269.60" stroke="#888" stroke-width="0.4" />
<rect x="313.31" y="267.76" width="1.40" height="0.54" fill="#5b9bd5" />
<line x1="316.61" y1="268.30" x2="316.61" y2="269.60" stroke="#888" stroke-width="0.4" />
<rect x="318.50" y="267.76" width="1.40" height="0.54" fill="#5b9bd5" />
<line x1="321.80" y1="268.30" x2="321.80" y2="269.60" stroke="#888" stroke-width="0.4" />
<rect x="323.69" y="267.80" width="1.40" height="0.50" fill="#5b9bd5" />
<line x1="326.99" y1="268.30" x2="326.99" y2="269.60" stroke="#888" stroke-width="0.4" />
<rect x="328.88" y="267.80" width="1.40" height="0.50" fill="#5b9bd5" />
<line x1="332.18" y1="268.30" x2="332.18" y2="269.60" stroke="#888" stroke-width="0.4" />
<rect x="334.07" y="267.76" width="1.40" height="0.54" fill="#5b9bd5" />
<line x1="337.37" y1="268.30" x2="337.37" y2="269.60" stroke="#888" stroke-width="0.4" />
<rect x="339.26" y="267.72" width="1.40" height="0.58" fill="#5b9bd5" />
<line x1="342.56" y1="268.30" x2="342.56" y2="269.60" stroke="#888" stroke-width="0.4" />
<rect x="344.45" y="267.65" width="1.40" height="0.65" fill="#5b9bd5" />
<line x1="347.75" y1="268.30" x2="347.75" y2="269.60" stroke="#888" stroke-width="0.4" />
<rect x="349.64" y="267.40" width="1.40" height="0.90" fill="#5b9bd5" />
<line x1="352.94" y1="268.30" x2="352.94" y2="269.60" stroke="#888" stroke-width="0.4" />
<rect x="354.83" y="267.22" width="1.40" height="1.08" fill="#5b9bd5" />
<line x1="358.13" y1="268.30" x2="358.13" y2="269.60" stroke="#888" stroke-width="0.4" />
<rect x="360.02" y="266.86" width="1.40" height="1.44" fill="#5b9bd5" />
<line x1="363.32" y1="268.30" x2="363.32" y2="269.60" stroke="#888" stroke-width="0.4" />
<text x="214.90" y="277.00" font-size="5.5" font-weight="normal" font-style="normal" text-anchor="middle" fill="#222" stroke="#222" stroke-width="0.3" >1</text>
<text x="225.28" y="277.00" font-size="5.5" font-weight="normal" font-style="normal" text-anchor="middle" fill="#222" stroke="#222" stroke-width="0.3" >3</text>
<text x="235.66" y="277.00" font-size="5.5" font-weight="normal" font-style="normal" text-anchor="middle" fill="#222" stroke="#222" stroke-width="0.3" >5</text>
<text x="246.04" y="277.00" font-size="5.5" font-weight="normal" font-style="normal" text-anchor="middle" fill="#222" stroke="#222" stroke-width="0.3" >7</text>
<text x="256.42" y="277.00" font-size="5.5" font-weight="normal" font-style="normal" text-anchor="middle" fill="#222" stroke="#222" stroke-width="0.3" >9</text>
<text x="266.80" y="277.00" font-size="5.5" font-weight="normal" font-style="normal" text-anchor="middle" fill="#222" stroke="#222" stroke-width="0.3" >11</text>
<text x="277.18" y="277.00" font-size="5.5" font-weight="normal" font-style="normal" text-anchor="middle" fill="#222" stroke="#222" stroke-width="0.3" >13</text>
<text x="287.56" y="277.00" font-size="5.5" font-weight="normal" font-style="normal" text-anchor="middle" fill="#222" stroke="#222" stroke-width="0.3" >15</text>
<text x="297.94" y="277.00" font-size="5.5" font-weight="normal" font-style="normal" text-anchor="middle" fill="#222" stroke="#222" stroke-width="0.3" >17</text>
<text x="308.32" y="277.00" font-size="5.5" font-weight="normal" font-style="normal" text-anchor="middle" fill="#222" stroke="#222" stroke-width="0.3" >19</text>
<text x="318.70" y="277.00" font-size="5.5" font-weight="normal" font-style="normal" text-anchor="middle" fill="#222" stroke="#222" stroke-width="0.3" >21</text>
<text x="329.08" y="277.00" font-size="5.5" font-weight="normal" font-style="normal" text-anchor="middle" fill="#222" stroke="#222" stroke-width="0.3" >23</text>
<text x="339.46" y="277.00" font-size="5.5" font-weight="normal" font-style="normal" text-anchor="middle" fill="#222" stroke="#222" stroke-width="0.3" >25</text>
<text x="349.84" y="277.00" font-size="5.5" font-weight="normal" font-style="normal" text-anchor="middle" fill="#222" stroke="#222" stroke-width="0.3" >27</text>
<text x="360.22" y="277.00" font-size="5.5" font-weight="normal" font-style="normal" text-anchor="middle" fill="#222" stroke="#222" stroke-width="0.3" >29</text>
<text x="289.00" y="285.00" font-size="6.7" font-weight="bold" font-style="normal" text-anchor="middle" fill="#111" stroke="#111" stroke-width="0.3" >Number of genomes</text>
<text x="0.00" y="0.00" font-size="6.67" font-weight="bold" font-style="normal" text-anchor="middle" fill="#111" stroke="#111" stroke-width="0.3" transform="translate(187.6,218) rotate(-90)">Number of gene families</text>
<text x="367.80" y="171.60" font-size="8.2" font-weight="bold" font-style="normal" text-anchor="start" fill="#000" stroke="#000" stroke-width="0.22" >(f)</text>
<rect x="394.4" y="174.7" width="148.10" height="95.00" fill="none" stroke="#a8a8a8" stroke-width="0.9"/>
<line x1="392.60" y1="269.70" x2="394.40" y2="269.70" stroke="#888" stroke-width="0.5" />
<text x="389.90" y="271.30" font-size="5.0" font-weight="normal" font-style="normal" text-anchor="end" fill="#222" stroke="#222" stroke-width="0.2" >0</text>
<line x1="392.60" y1="256.13" x2="394.40" y2="256.13" stroke="#888" stroke-width="0.5" />
<text x="389.90" y="257.73" font-size="5.0" font-weight="normal" font-style="normal" text-anchor="end" fill="#222" stroke="#222" stroke-width="0.2" >500</text>
<line x1="392.60" y1="242.56" x2="394.40" y2="242.56" stroke="#888" stroke-width="0.5" />
<text x="389.90" y="244.16" font-size="5.0" font-weight="normal" font-style="normal" text-anchor="end" fill="#222" stroke="#222" stroke-width="0.2" >1000</text>
<line x1="392.60" y1="228.99" x2="394.40" y2="228.99" stroke="#888" stroke-width="0.5" />
<text x="389.90" y="230.59" font-size="5.0" font-weight="normal" font-style="normal" text-anchor="end" fill="#222" stroke="#222" stroke-width="0.2" >1500</text>
<line x1="392.60" y1="215.41" x2="394.40" y2="215.41" stroke="#888" stroke-width="0.5" />
<text x="389.90" y="217.01" font-size="5.0" font-weight="normal" font-style="normal" text-anchor="end" fill="#222" stroke="#222" stroke-width="0.2" >2000</text>
<line x1="392.60" y1="201.84" x2="394.40" y2="201.84" stroke="#888" stroke-width="0.5" />
<text x="389.90" y="203.44" font-size="5.0" font-weight="normal" font-style="normal" text-anchor="end" fill="#222" stroke="#222" stroke-width="0.2" >2500</text>
<line x1="392.60" y1="188.27" x2="394.40" y2="188.27" stroke="#888" stroke-width="0.5" />
<text x="389.90" y="189.87" font-size="5.0" font-weight="normal" font-style="normal" text-anchor="end" fill="#222" stroke="#222" stroke-width="0.2" >3000</text>
<line x1="392.60" y1="174.70" x2="394.40" y2="174.70" stroke="#888" stroke-width="0.5" />
<text x="389.90" y="176.30" font-size="5.0" font-weight="normal" font-style="normal" text-anchor="end" fill="#222" stroke="#222" stroke-width="0.2" >3500</text>
<line x1="394.40" y1="269.70" x2="394.40" y2="271.00" stroke="#777" stroke-width="0.5" />
<line x1="401.82" y1="269.70" x2="401.82" y2="271.00" stroke="#777" stroke-width="0.5" />
<line x1="409.23" y1="269.70" x2="409.23" y2="271.00" stroke="#777" stroke-width="0.5" />
<line x1="416.65" y1="269.70" x2="416.65" y2="271.00" stroke="#777" stroke-width="0.5" />
<line x1="424.06" y1="269.70" x2="424.06" y2="271.00" stroke="#777" stroke-width="0.5" />
<line x1="431.48" y1="269.70" x2="431.48" y2="271.00" stroke="#777" stroke-width="0.5" />
<line x1="438.90" y1="269.70" x2="438.90" y2="271.00" stroke="#777" stroke-width="0.5" />
<line x1="446.31" y1="269.70" x2="446.31" y2="271.00" stroke="#777" stroke-width="0.5" />
<line x1="453.73" y1="269.70" x2="453.73" y2="271.00" stroke="#777" stroke-width="0.5" />
<line x1="461.14" y1="269.70" x2="461.14" y2="271.00" stroke="#777" stroke-width="0.5" />
<line x1="468.56" y1="269.70" x2="468.56" y2="271.00" stroke="#777" stroke-width="0.5" />
<line x1="475.98" y1="269.70" x2="475.98" y2="271.00" stroke="#777" stroke-width="0.5" />
<line x1="483.39" y1="269.70" x2="483.39" y2="271.00" stroke="#777" stroke-width="0.5" />
<line x1="490.81" y1="269.70" x2="490.81" y2="271.00" stroke="#777" stroke-width="0.5" />
<line x1="498.22" y1="269.70" x2="498.22" y2="271.00" stroke="#777" stroke-width="0.5" />
<line x1="505.64" y1="269.70" x2="505.64" y2="271.00" stroke="#777" stroke-width="0.5" />
<line x1="513.06" y1="269.70" x2="513.06" y2="271.00" stroke="#777" stroke-width="0.5" />
<line x1="520.47" y1="269.70" x2="520.47" y2="271.00" stroke="#777" stroke-width="0.5" />
<line x1="527.89" y1="269.70" x2="527.89" y2="271.00" stroke="#777" stroke-width="0.5" />
<line x1="535.30" y1="269.70" x2="535.30" y2="271.00" stroke="#777" stroke-width="0.5" />
<line x1="542.72" y1="269.70" x2="542.72" y2="271.00" stroke="#777" stroke-width="0.5" />
<line x1="417.50" y1="175.00" x2="417.50" y2="269.00" stroke="#333" stroke-width="1.0" stroke-dasharray="1,1"/>
<line x1="468.50" y1="175.00" x2="468.50" y2="269.00" stroke="#333" stroke-width="1.0" stroke-dasharray="1,1"/>
<line x1="528.50" y1="175.00" x2="528.50" y2="269.00" stroke="#333" stroke-width="1.0" stroke-dasharray="1,1"/>
<rect x="395.30" y="268.89" width="1.90" height="0.81" fill="#4aa3df" />
<rect x="397.20" y="262.37" width="1.90" height="7.33" fill="#e8602c" />
<rect x="399.10" y="266.28" width="1.90" height="3.42" fill="#bec0a0" />
<text x="398.10" y="278.00" font-size="5.7" font-weight="normal" font-style="normal" text-anchor="middle" fill="#222" stroke="#222" stroke-width="0.12" >J</text>
<rect x="402.72" y="269.43" width="1.90" height="0.27" fill="#4aa3df" />
<rect x="404.62" y="215.41" width="1.90" height="54.29" fill="#e8602c" />
<rect x="406.52" y="226.27" width="1.90" height="43.43" fill="#bec0a0" />
<text x="405.52" y="278.00" font-size="5.7" font-weight="normal" font-style="normal" text-anchor="middle" fill="#222" stroke="#222" stroke-width="0.12" >K</text>
<rect x="410.13" y="269.43" width="1.90" height="0.27" fill="#4aa3df" />
<rect x="412.03" y="255.83" width="1.90" height="13.87" fill="#e8602c" />
<rect x="413.93" y="255.45" width="1.90" height="14.25" fill="#bec0a0" />
<text x="412.93" y="278.00" font-size="5.7" font-weight="normal" font-style="normal" text-anchor="middle" fill="#222" stroke="#222" stroke-width="0.12" >L</text>
<rect x="417.55" y="269.56" width="1.90" height="0.14" fill="#4aa3df" />
<rect x="419.45" y="264.98" width="1.90" height="4.72" fill="#e8602c" />
<rect x="421.35" y="264.98" width="1.90" height="4.72" fill="#bec0a0" />
<text x="420.35" y="278.00" font-size="5.7" font-weight="normal" font-style="normal" text-anchor="middle" fill="#222" stroke="#222" stroke-width="0.12" >D</text>
<rect x="424.96" y="269.56" width="1.90" height="0.14" fill="#4aa3df" />
<rect x="426.86" y="260.85" width="1.90" height="8.85" fill="#e8602c" />
<rect x="428.76" y="262.86" width="1.90" height="6.84" fill="#bec0a0" />
<text x="427.76" y="278.00" font-size="5.7" font-weight="normal" font-style="normal" text-anchor="middle" fill="#222" stroke="#222" stroke-width="0.12" >V</text>
<rect x="432.38" y="269.43" width="1.90" height="0.27" fill="#4aa3df" />
<rect x="434.28" y="232.51" width="1.90" height="37.19" fill="#e8602c" />
<rect x="436.18" y="241.20" width="1.90" height="28.50" fill="#bec0a0" />
<text x="435.18" y="278.00" font-size="5.7" font-weight="normal" font-style="normal" text-anchor="middle" fill="#222" stroke="#222" stroke-width="0.12" >T</text>
<rect x="439.80" y="269.56" width="1.90" height="0.14" fill="#4aa3df" />
<rect x="441.70" y="248.88" width="1.90" height="20.82" fill="#e8602c" />
<rect x="443.60" y="249.07" width="1.90" height="20.63" fill="#bec0a0" />
<text x="442.60" y="278.00" font-size="5.7" font-weight="normal" font-style="normal" text-anchor="middle" fill="#222" stroke="#222" stroke-width="0.12" >M</text>
<rect x="447.21" y="269.56" width="1.90" height="0.14" fill="#4aa3df" />
<rect x="449.11" y="260.85" width="1.90" height="8.85" fill="#e8602c" />
<rect x="451.01" y="261.83" width="1.90" height="7.87" fill="#bec0a0" />
<text x="450.01" y="278.00" font-size="5.7" font-weight="normal" font-style="normal" text-anchor="middle" fill="#222" stroke="#222" stroke-width="0.12" >N</text>
<rect x="454.63" y="269.62" width="1.90" height="0.08" fill="#4aa3df" />
<rect x="456.53" y="264.68" width="1.90" height="5.02" fill="#e8602c" />
<rect x="458.43" y="265.36" width="1.90" height="4.34" fill="#bec0a0" />
<text x="457.43" y="278.00" font-size="5.7" font-weight="normal" font-style="normal" text-anchor="middle" fill="#222" stroke="#222" stroke-width="0.12" >U</text>
<rect x="462.04" y="269.56" width="1.90" height="0.14" fill="#4aa3df" />
<rect x="463.94" y="262.86" width="1.90" height="6.84" fill="#e8602c" />
<rect x="465.84" y="264.68" width="1.90" height="5.02" fill="#bec0a0" />
<text x="464.84" y="278.00" font-size="5.7" font-weight="normal" font-style="normal" text-anchor="middle" fill="#222" stroke="#222" stroke-width="0.12" >O</text>
<rect x="469.46" y="269.56" width="1.90" height="0.14" fill="#4aa3df" />
<rect x="471.36" y="261.56" width="1.90" height="8.14" fill="#e8602c" />
<rect x="473.26" y="264.68" width="1.90" height="5.02" fill="#bec0a0" />
<text x="472.26" y="278.00" font-size="5.7" font-weight="normal" font-style="normal" text-anchor="middle" fill="#222" stroke="#222" stroke-width="0.12" >H</text>
<rect x="476.88" y="269.56" width="1.90" height="0.14" fill="#4aa3df" />
<rect x="478.78" y="259.25" width="1.90" height="10.45" fill="#e8602c" />
<rect x="480.68" y="262.86" width="1.90" height="6.84" fill="#bec0a0" />
<text x="479.68" y="278.00" font-size="5.7" font-weight="normal" font-style="normal" text-anchor="middle" fill="#222" stroke="#222" stroke-width="0.12" >I</text>
<rect x="484.29" y="269.43" width="1.90" height="0.27" fill="#4aa3df" />
<rect x="486.19" y="244.46" width="1.90" height="25.24" fill="#e8602c" />
<rect x="488.09" y="256.64" width="1.90" height="13.06" fill="#bec0a0" />
<text x="487.09" y="278.00" font-size="5.7" font-weight="normal" font-style="normal" text-anchor="middle" fill="#222" stroke="#222" stroke-width="0.12" >P</text>
<rect x="491.71" y="269.56" width="1.90" height="0.14" fill="#4aa3df" />
<rect x="493.61" y="263.16" width="1.90" height="6.54" fill="#e8602c" />
<rect x="495.51" y="263.97" width="1.90" height="5.73" fill="#bec0a0" />
<text x="494.51" y="278.00" font-size="5.7" font-weight="normal" font-style="normal" text-anchor="middle" fill="#222" stroke="#222" stroke-width="0.12" >Q</text>
<rect x="499.12" y="269.43" width="1.90" height="0.27" fill="#4aa3df" />
<rect x="501.02" y="255.72" width="1.90" height="13.98" fill="#e8602c" />
<rect x="502.92" y="261.56" width="1.90" height="8.14" fill="#bec0a0" />
<text x="501.92" y="278.00" font-size="5.7" font-weight="normal" font-style="normal" text-anchor="middle" fill="#222" stroke="#222" stroke-width="0.12" >C</text>
<rect x="506.54" y="269.43" width="1.90" height="0.27" fill="#4aa3df" />
<rect x="508.44" y="202.74" width="1.90" height="66.96" fill="#e8602c" />
<rect x="510.34" y="225.78" width="1.90" height="43.92" fill="#bec0a0" />
<text x="509.34" y="278.00" font-size="5.7" font-weight="normal" font-style="normal" text-anchor="middle" fill="#222" stroke="#222" stroke-width="0.12" >G</text>
<rect x="513.96" y="269.56" width="1.90" height="0.14" fill="#4aa3df" />
<rect x="515.86" y="237.73" width="1.90" height="31.97" fill="#e8602c" />
<rect x="517.76" y="249.89" width="1.90" height="19.81" fill="#bec0a0" />
<text x="516.76" y="278.00" font-size="5.7" font-weight="normal" font-style="normal" text-anchor="middle" fill="#222" stroke="#222" stroke-width="0.12" >E</text>
<rect x="521.37" y="269.56" width="1.90" height="0.14" fill="#4aa3df" />
<rect x="523.27" y="263.97" width="1.90" height="5.73" fill="#e8602c" />
<rect x="525.17" y="266.28" width="1.90" height="3.42" fill="#bec0a0" />
<text x="524.17" y="278.00" font-size="5.7" font-weight="normal" font-style="normal" text-anchor="middle" fill="#222" stroke="#222" stroke-width="0.12" >F</text>
<rect x="528.79" y="266.99" width="1.90" height="2.71" fill="#4aa3df" />
<rect x="530.69" y="185.07" width="1.90" height="84.63" fill="#e8602c" />
<rect x="532.59" y="208.68" width="1.90" height="61.02" fill="#bec0a0" />
<text x="531.59" y="278.00" font-size="5.7" font-weight="normal" font-style="normal" text-anchor="middle" fill="#222" stroke="#222" stroke-width="0.12" >S</text>
<rect x="536.20" y="269.56" width="1.90" height="0.14" fill="#4aa3df" />
<rect x="538.10" y="234.12" width="1.90" height="35.58" fill="#e8602c" />
<rect x="540.00" y="226.38" width="1.90" height="43.32" fill="#bec0a0" />
<text x="539.00" y="278.00" font-size="5.7" font-weight="normal" font-style="normal" text-anchor="middle" fill="#222" stroke="#222" stroke-width="0.12" >-</text>
<rect x="418.60" y="181.30" width="2.00" height="2.00" fill="#4aa3df" />
<text x="421.50" y="183.70" font-size="5.7" font-weight="bold" font-style="normal" text-anchor="start" fill="#111" stroke="#111" stroke-width="0.12" >Core-genome</text>
<rect x="418.60" y="188.70" width="2.00" height="2.00" fill="#e8602c" />
<text x="421.50" y="191.10" font-size="5.65" font-weight="bold" font-style="normal" text-anchor="start" fill="#111" stroke="#111" stroke-width="0.12" >Accessory-genome</text>
<rect x="418.60" y="196.00" width="2.00" height="2.00" fill="#bec0a0" />
<text x="421.50" y="198.40" font-size="5.65" font-weight="bold" font-style="normal" text-anchor="start" fill="#111" stroke="#111" stroke-width="0.12" >unique genome</text>
<text x="401.35" y="162.90" font-size="5.2" font-weight="bold" font-style="normal" text-anchor="middle" fill="#111" stroke="#111" stroke-width="0.2" >Information storage</text>
<text x="401.00" y="169.20" font-size="5.2" font-weight="bold" font-style="normal" text-anchor="middle" fill="#111" stroke="#111" stroke-width="0.2" >and processing</text>
<text x="446.35" y="163.90" font-size="5.2" font-weight="bold" font-style="normal" text-anchor="middle" fill="#111" stroke="#111" stroke-width="0.2" >Cellular processes</text>
<text x="446.00" y="169.60" font-size="5.2" font-weight="bold" font-style="normal" text-anchor="middle" fill="#111" stroke="#111" stroke-width="0.2" >and signaling</text>
<text x="495.50" y="164.10" font-size="5.2" font-weight="bold" font-style="normal" text-anchor="middle" fill="#111" stroke="#111" stroke-width="0.2" >Metabolism</text>
<text x="531.50" y="164.10" font-size="5.2" font-weight="bold" font-style="normal" text-anchor="middle" fill="#111" stroke="#111" stroke-width="0.2" >Poorly</text>
<text x="531.50" y="170.60" font-size="5.2" font-weight="bold" font-style="normal" text-anchor="middle" fill="#111" stroke="#111" stroke-width="0.2" >characterized</text>
<text x="475.00" y="284.80" font-size="6.6" font-weight="bold" font-style="normal" text-anchor="middle" fill="#111" stroke="#111" stroke-width="0.3" >COGs classification</text>
<text x="0.00" y="0.00" font-size="6.4" font-weight="bold" font-style="normal" text-anchor="middle" fill="#111" stroke="#111" stroke-width="0.3" transform="translate(375.2,218.5) rotate(-90)">COGs numbers</text>
</g>
</svg></div>
</body></html>
